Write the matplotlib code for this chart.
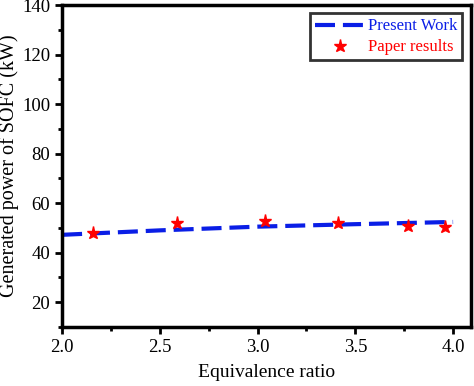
import numpy as np
import matplotlib
matplotlib.use("Agg")
import matplotlib.pyplot as plt
from matplotlib.ticker import MultipleLocator

# data
line_x = [2.0, 2.5, 3.0, 3.5, 4.0]
line_y = [47.2, 49.0, 50.5, 51.5, 52.4]
paper_x = [2.16, 2.59, 3.04, 3.41, 3.77, 3.96]
paper_y = [47.8, 51.9, 52.7, 51.9, 50.8, 50.3]

plt.rcParams['font.family'] = ['Liberation Serif', 'DejaVu Serif']

fig = plt.figure(figsize=(4.74, 3.86), dpi=100)
ax = fig.add_axes([0.131, 0.153, 0.862, 0.834])

ax.plot(line_x, line_y, color='#0a1ee6', linestyle=(0, (4.8, 1.9)), linewidth=3,
        label='Present Work')
ax.plot(paper_x, paper_y, linestyle='none', marker='*', markersize=9.5,
        color='#ff0000', label='Paper results')

ax.set_xlim(2.0, 4.09)
ax.set_ylim(10, 140)
ax.xaxis.set_major_locator(MultipleLocator(0.5))
ax.xaxis.set_minor_locator(MultipleLocator(0.25))
ax.yaxis.set_minor_locator(MultipleLocator(10))
ax.set_yticks([20, 40, 60, 80, 100, 120, 140])

for s in ax.spines.values():
    s.set_linewidth(2.5)
ax.tick_params(which='major', direction='out', length=5, width=2, labelsize=13.5)
ax.tick_params(which='minor', direction='out', length=3, width=2)

ax.set_xlabel('Equivalence ratio', fontsize=14, labelpad=6)
ax.set_ylabel('Generated power of SOFC (kW)', fontsize=14.5, labelpad=2)

# legend with coloured labels
leg = ax.legend(loc='upper right', fontsize=12, frameon=True, fancybox=False,
                edgecolor='black', handlelength=3.0, borderpad=0.3,
                labelspacing=0.3, handletextpad=0.2, borderaxespad=0.5)
leg.get_frame().set_linewidth(2)
leg.get_texts()[0].set_color('#0a1ee6')
leg.get_texts()[1].set_color('#ff0000')

fig.savefig('out.png', dpi=100)
